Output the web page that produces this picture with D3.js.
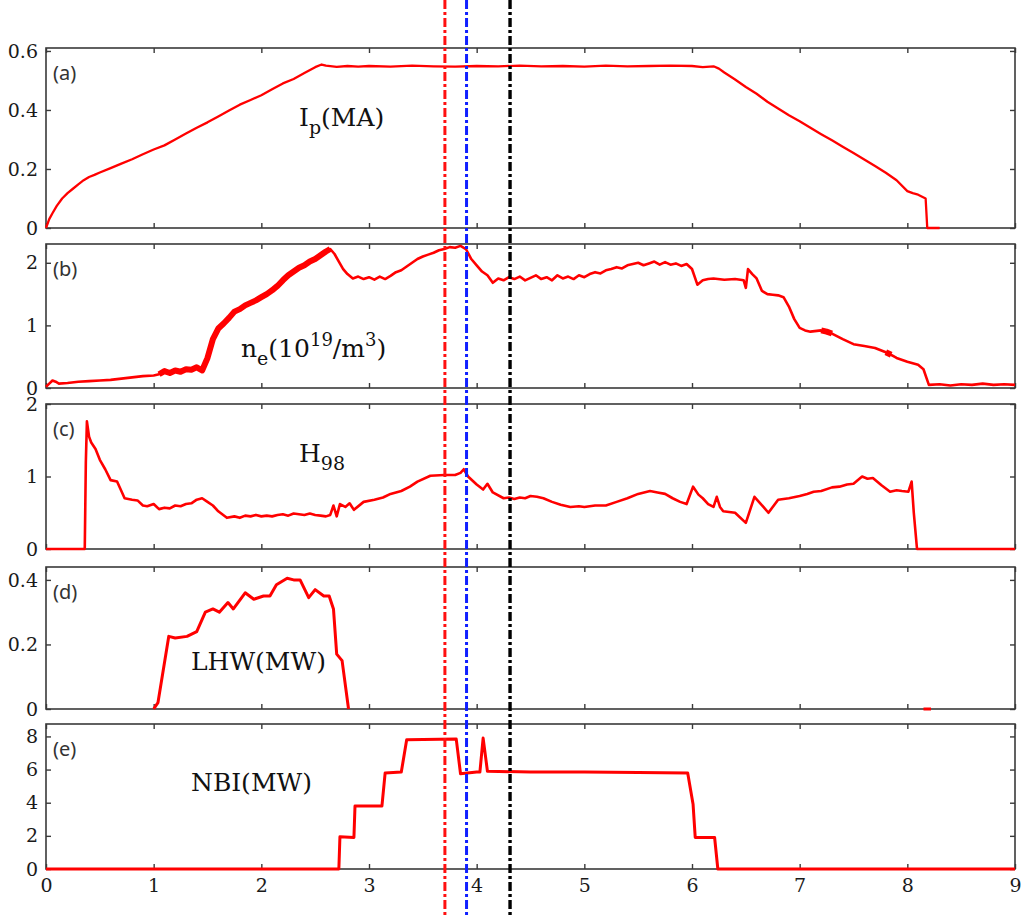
<!DOCTYPE html>
<html lang="en">
	<head>
		<meta charset="utf-8">
		<title>Discharge time traces</title>
		<script type="text/javascript" src="https://cdn.jsdelivr.net/npm/d3@7"></script>
		<style type="text/css">
			body { margin: 0; background: #fff; }
		</style>
	</head>
	<body>
		<script type="text/javascript">

			//Width and height
			var w = 1025;
			var h = 915;

			// x axis ticks (time, s)
			var xTicks = [0, 1, 2, 3, 4, 5, 6, 7, 8, 9];

			// (a) plasma current Ip (MA)
			var ipData = [
				[0,0],[0.03,0.03],[0.06,0.05],[0.1,0.075],[0.15,0.1],[0.2,0.118],[0.25,0.133],[0.3,0.148],
				[0.35,0.162],[0.4,0.173],[0.45,0.18],[0.5,0.188],[0.6,0.203],[0.7,0.218],[0.8,0.233],
				[0.9,0.25],[1.0,0.266],[1.1,0.28],[1.2,0.3],[1.3,0.32],[1.4,0.34],[1.5,0.358],[1.6,0.378],
				[1.7,0.398],[1.8,0.418],[1.9,0.434],[2.0,0.45],[2.1,0.47],[2.2,0.49],[2.3,0.505],
				[2.4,0.525],[2.5,0.545],[2.56,0.554],[2.6,0.55],[2.7,0.546],[2.8,0.549],[2.9,0.547],
				[3.0,0.549],[3.2,0.547],[3.4,0.55],[3.6,0.548],[3.8,0.547],[4.0,0.549],[4.2,0.548],
				[4.4,0.55],[4.6,0.548],[4.8,0.549],[5.0,0.547],[5.2,0.55],[5.4,0.548],[5.6,0.549],
				[5.8,0.55],[6.0,0.549],[6.1,0.545],[6.2,0.548],[6.25,0.54],[6.3,0.527],[6.4,0.503],
				[6.5,0.478],[6.6,0.455],[6.7,0.428],[6.8,0.405],[6.9,0.382],[7.0,0.362],[7.1,0.34],
				[7.2,0.318],[7.3,0.297],[7.4,0.275],[7.5,0.254],[7.6,0.232],[7.7,0.21],[7.8,0.187],
				[7.9,0.162],[8.0,0.125],[8.05,0.118],[8.1,0.113],[8.17,0.1],[8.185,0.0],[8.3,0.0]
			];

			// (b) line averaged density (10^19 m^-3)
			var neData = [
				[0,0.02],[0.03,0.07],[0.06,0.12],[0.09,0.1],[0.12,0.07],[0.2,0.08],[0.3,0.1],[0.4,0.11],
				[0.5,0.12],[0.6,0.13],[0.7,0.15],[0.8,0.17],[0.9,0.19],[1.0,0.2],[1.05,0.22],[1.1,0.27],
				[1.15,0.24],[1.2,0.28],[1.25,0.26],[1.3,0.3],[1.35,0.29],[1.4,0.33],[1.45,0.28],
				[1.5,0.48],[1.55,0.78],[1.6,0.95],[1.65,1.03],[1.7,1.12],[1.75,1.22],[1.8,1.26],
				[1.85,1.32],[1.9,1.36],[1.95,1.4],[2.0,1.45],[2.05,1.5],[2.1,1.56],[2.15,1.63],
				[2.2,1.72],[2.25,1.8],[2.3,1.86],[2.35,1.92],[2.4,1.96],[2.45,2.02],[2.5,2.06],
				[2.55,2.12],[2.6,2.18],[2.64,2.22],[2.68,2.14],[2.72,2.02],[2.76,1.9],[2.8,1.82],
				[2.85,1.75],[2.9,1.78],[2.95,1.74],[3.0,1.77],[3.05,1.73],[3.1,1.78],[3.15,1.74],
				[3.2,1.79],[3.25,1.85],[3.3,1.88],[3.35,1.94],[3.4,2.0],[3.45,2.06],[3.5,2.1],
				[3.55,2.13],[3.6,2.16],[3.65,2.2],[3.7,2.22],[3.75,2.25],[3.8,2.24],[3.85,2.27],
				[3.9,2.22],[3.95,2.06],[4.0,1.96],[4.05,1.86],[4.1,1.8],[4.15,1.68],[4.2,1.75],
				[4.25,1.72],[4.3,1.77],[4.35,1.74],[4.4,1.78],[4.45,1.72],[4.5,1.76],[4.55,1.8],
				[4.6,1.74],[4.65,1.77],[4.7,1.72],[4.75,1.8],[4.8,1.75],[4.85,1.78],[4.9,1.74],
				[4.95,1.8],[5.0,1.77],[5.05,1.82],[5.1,1.85],[5.15,1.83],[5.2,1.88],[5.25,1.9],
				[5.3,1.93],[5.35,1.91],[5.4,1.96],[5.45,1.98],[5.5,2.0],[5.55,1.96],[5.6,1.99],
				[5.65,2.02],[5.7,1.97],[5.75,2.01],[5.8,1.97],[5.85,1.99],[5.9,1.95],[5.95,1.98],
				[6.0,1.9],[6.05,1.65],[6.1,1.72],[6.15,1.74],[6.2,1.75],[6.3,1.73],[6.4,1.74],
				[6.48,1.72],[6.5,1.6],[6.52,1.9],[6.56,1.82],[6.6,1.75],[6.65,1.55],[6.7,1.5],
				[6.75,1.49],[6.8,1.48],[6.85,1.45],[6.9,1.3],[6.95,1.1],[7.0,0.96],[7.05,0.92],
				[7.1,0.9],[7.2,0.92],[7.25,0.9],[7.3,0.87],[7.4,0.78],[7.5,0.7],[7.6,0.67],
				[7.7,0.64],[7.8,0.57],[7.85,0.53],[7.9,0.48],[8.0,0.42],[8.1,0.37],[8.15,0.3],
				[8.18,0.15],[8.2,0.05],[8.3,0.06],[8.4,0.04],[8.5,0.06],[8.6,0.05],[8.7,0.07],
				[8.8,0.05],[8.9,0.06],[9.0,0.05]
			];
			// time windows where the density trace is noisy (drawn thicker)
			var neNoisyWindows = [[1.05, 2.66], [7.18, 7.32], [7.74, 7.88]];

			// (c) confinement factor H98
			var h98Data = [
				[0,0],[0.36,0],[0.37,1.2],[0.38,1.76],[0.4,1.55],[0.42,1.47],[0.46,1.38],[0.5,1.23],
				[0.55,1.1],[0.6,0.95],[0.66,0.93],[0.7,0.8],[0.73,0.7],[0.8,0.68],[0.85,0.67],
				[0.9,0.6],[0.94,0.59],[1.0,0.62],[1.05,0.55],[1.1,0.57],[1.15,0.56],[1.2,0.6],
				[1.25,0.59],[1.3,0.62],[1.35,0.63],[1.4,0.68],[1.45,0.7],[1.5,0.65],[1.55,0.6],
				[1.6,0.52],[1.68,0.43],[1.75,0.45],[1.8,0.43],[1.85,0.46],[1.9,0.45],[1.95,0.47],
				[2.0,0.45],[2.05,0.46],[2.1,0.45],[2.15,0.47],[2.2,0.48],[2.25,0.46],[2.3,0.49],
				[2.35,0.48],[2.4,0.47],[2.45,0.49],[2.5,0.47],[2.55,0.46],[2.6,0.45],
				[2.64,0.47],[2.67,0.6],[2.7,0.45],[2.73,0.62],[2.78,0.58],[2.82,0.63],[2.86,0.54],
				[2.95,0.65],[3.05,0.68],[3.13,0.71],[3.2,0.76],[3.3,0.8],[3.38,0.86],[3.45,0.93],
				[3.57,1.01],[3.7,1.02],[3.8,1.02],[3.85,1.05],[3.88,1.1],[3.92,1.0],[4.0,0.89],
				[4.06,0.82],[4.1,0.9],[4.15,0.78],[4.25,0.7],[4.3,0.71],[4.35,0.69],[4.4,0.71],
				[4.45,0.7],[4.5,0.73],[4.56,0.72],[4.62,0.7],[4.7,0.65],[4.78,0.61],[4.87,0.58],
				[4.95,0.59],[5.0,0.58],[5.1,0.6],[5.2,0.6],[5.3,0.65],[5.4,0.7],[5.5,0.76],
				[5.61,0.8],[5.68,0.78],[5.75,0.76],[5.82,0.7],[5.89,0.65],
				[5.95,0.62],[6.01,0.86],[6.06,0.75],[6.1,0.7],[6.15,0.62],[6.2,0.58],[6.23,0.72],
				[6.26,0.58],[6.29,0.52],[6.4,0.5],[6.5,0.36],[6.58,0.72],[6.64,0.62],[6.71,0.5],
				[6.8,0.68],[6.9,0.7],[7.0,0.73],[7.07,0.76],[7.13,0.79],[7.2,0.8],[7.3,0.85],
				[7.37,0.86],[7.44,0.89],[7.5,0.9],[7.58,1.0],[7.63,0.97],[7.68,0.98],
				[7.76,0.88],[7.84,0.79],[7.9,0.81],[7.95,0.8],[8.01,0.79],[8.04,0.93],[8.06,0.5],[8.09,0],[9,0]
			];

			// (d) lower hybrid wave power (MW)
			var lhwData = [
				[1.0,0],[1.04,0.02],[1.14,0.225],[1.2,0.22],[1.31,0.225],[1.4,0.24],[1.48,0.3],
				[1.55,0.31],[1.61,0.3],[1.69,0.33],[1.74,0.31],[1.85,0.36],[1.93,0.34],[2.02,0.35],
				[2.08,0.35],[2.14,0.385],[2.24,0.405],[2.3,0.4],[2.36,0.4],[2.44,0.345],[2.5,0.37],
				[2.58,0.35],[2.63,0.35],[2.67,0.31],[2.7,0.17],[2.75,0.15],[2.81,0.0]
			];
			var lhwTail = [[8.15,0],[8.22,0]];

			// (e) neutral beam power (MW)
			var nbiData = [
				[0,0],[2.72,0],[2.73,1.95],[2.86,1.9],[2.87,3.8],[3.12,3.8],[3.15,5.8],[3.3,5.85],
				[3.35,7.8],[3.81,7.85],[3.85,5.75],[4.0,5.85],[4.03,5.85],[4.06,7.9],[4.1,5.9],
				[4.5,5.85],[5.0,5.85],[5.5,5.82],[5.96,5.8],[6.01,3.9],[6.03,1.9],[6.21,1.9],
				[6.24,0],[9,0]
			];

			// vertical time markers
			var markerT = [3.705, 3.906, 4.31];
			var markerColors = ["#ff1010", "#1020ff", "#000000"];

			var panels = [
				{ tag: "(a)", top: 48,  bottom: 228, domain: [0, 0.61], ticks: [0, 0.2, 0.4, 0.6], data: [ipData], sw: 2.3 },
				{ tag: "(b)", top: 244, bottom: 388, domain: [0, 2.3],  ticks: [0, 1, 2], data: [neData], sw: 2.6 },
				{ tag: "(c)", top: 404, bottom: 549, domain: [0, 2],    ticks: [0, 1, 2], data: [h98Data], sw: 2.6 },
				{ tag: "(d)", top: 567, bottom: 709, domain: [0, 0.44], ticks: [0, 0.2, 0.4], data: [lhwData, lhwTail], sw: 3 },
				{ tag: "(e)", top: 724, bottom: 869, domain: [0, 8.75], ticks: [0, 2, 4, 6, 8], data: [nbiData], sw: 3 }
			];

			var xScale = d3.scaleLinear().domain([0, 9]).range([46, 1015]);

			//Create SVG element
			var svg = d3.select("body")
						.append("svg")
						.attr("width", w)
						.attr("height", h);

			var tickFmt = function(d) { return d === 0 ? "0" : String(d); };

			panels.forEach(function(p, i) {
				var yScale = d3.scaleLinear().domain(p.domain).range([p.bottom, p.top]);
				p.y = yScale;
				var g = svg.append("g");

				// inward ticks on all four sides
				var bottomAxis = d3.axisBottom(xScale).tickValues(xTicks).tickSize(-5).tickPadding(10)
					.tickFormat(i === panels.length - 1 ? d3.format("d") : "");
				var topAxis = d3.axisTop(xScale).tickValues(xTicks).tickSize(-5).tickFormat("");
				var leftAxis = d3.axisLeft(yScale).tickValues(p.ticks).tickSize(-5).tickPadding(8).tickFormat(tickFmt);
				var rightAxis = d3.axisRight(yScale).tickValues(p.ticks).tickSize(-5).tickFormat("");

				g.append("g").attr("transform", "translate(0," + p.bottom + ")").call(bottomAxis);
				g.append("g").attr("transform", "translate(0," + p.top + ")").call(topAxis);
				g.append("g").attr("transform", "translate(46,0)").call(leftAxis);
				g.append("g").attr("transform", "translate(1015,0)").call(rightAxis);

				g.selectAll(".domain").remove();
				g.selectAll(".tick line").attr("stroke", "#3a3a3a").attr("stroke-width", 1.4);
				g.selectAll(".tick text")
					.attr("font-family", "DejaVu Serif")
					.attr("font-size", "19px")
					.attr("fill", "#1a1a1a");

				// frame
				g.append("rect")
					.attr("x", 46).attr("y", p.top)
					.attr("width", 1015 - 46).attr("height", p.bottom - p.top)
					.attr("fill", "none").attr("stroke", "#3a3a3a").attr("stroke-width", 1.6);

				var line = d3.line()
					.x(function(d) { return xScale(d[0]); })
					.y(function(d) { return yScale(d[1]); });

				p.data.forEach(function(series) {
					g.append("path")
						.attr("d", line(series))
						.attr("fill", "none")
						.attr("stroke", "#ff0000")
						.attr("stroke-width", p.sw)
						.attr("stroke-linejoin", "round");
				});

				// panel tag
				g.append("text")
					.attr("x", 53).attr("y", p.top + 32)
					.attr("font-family", "Noto Sans")
					.attr("font-size", "20px")
					.attr("fill", "#333")
					.text(p.tag);
			});

			// thicker strokes where the density signal is noisy
			var neLine = d3.line()
				.x(function(d) { return xScale(d[0]); })
				.y(function(d) { return panels[1].y(d[1]); });
			neNoisyWindows.forEach(function(win) {
				var seg = neData.filter(function(d) { return d[0] >= win[0] && d[0] <= win[1]; });
				svg.append("path")
					.attr("d", neLine(seg))
					.attr("fill", "none")
					.attr("stroke", "#ff0000")
					.attr("stroke-width", 6)
					.attr("stroke-linejoin", "round");
			});

			// quantity labels
			var labelFont = "DejaVu Serif";
			function addLabel(x, y, parts) {
				var t = svg.append("text")
					.attr("x", x).attr("y", y)
					.attr("font-family", labelFont)
					.attr("font-size", "25px")
					.attr("fill", "#111");
				parts.forEach(function(pt) {
					var s = t.append("tspan").text(pt.s);
					if (pt.dy) s.attr("dy", pt.dy);
					if (pt.size) s.attr("font-size", pt.size);
				});
			}
			addLabel(299, 126, [{ s: "I" }, { s: "p", dy: 8, size: "19px" }, { s: "(MA)", dy: -8 }]);
			addLabel(241, 357, [{ s: "n" }, { s: "e", dy: 8, size: "19px" }, { s: "(10", dy: -8 },
				{ s: "19", dy: -11, size: "18px" }, { s: "/m", dy: 11 }, { s: "3", dy: -11, size: "18px" }, { s: ")", dy: 11 }]);
			addLabel(299, 462, [{ s: "H" }, { s: "98", dy: 8, size: "19px" }]);
			addLabel(191, 670, [{ s: "LHW(MW)" }]);
			addLabel(191, 791, [{ s: "NBI(MW)" }]);

			// vertical dash-dot markers across the whole figure
			svg.selectAll("line.marker")
				.data(markerT)
				.enter()
				.append("line")
				.attr("class", "marker")
				.attr("x1", function(d) { return xScale(d); })
				.attr("x2", function(d) { return xScale(d); })
				.attr("y1", 0)
				.attr("y2", h)
				.attr("stroke", function(d, i) { return markerColors[i]; })
				.attr("stroke-width", function(d, i) { return i === 2 ? 3.4 : 3; })
				.attr("stroke-dasharray", "9,3,3,3");

		</script>
	</body>
</html>
